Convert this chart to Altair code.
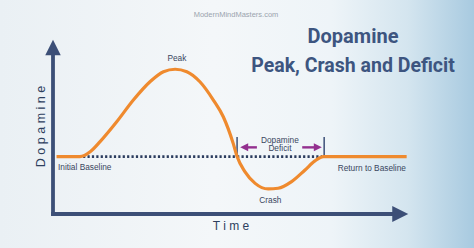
import altair as alt
import pandas as pd

# ---- data (time 0..100, dopamine 0..100) ----
curve_t = [1.0, 7.6, 10.5, 13.3, 18.0, 22.7, 27.4, 31.2, 34.5, 37.8, 41.5, 45.3, 48.1,
           50.9, 52.0, 54.2, 57.1, 60.8, 63.6, 67.4, 71.2, 74.0, 76.4, 99.9]
curve_d = [33.0, 33.0, 35.8, 41.6, 53.0, 65.5, 76.0, 81.8, 83.2, 81.8, 76.0, 65.5, 55.9,
           40.6, 33.0, 24.3, 17.6, 14.4, 14.8, 18.6, 25.3, 30.5, 33.0, 33.0]

baseline_level = 33.0
dotted_start = 8.5
dotted_end = 76.0
deficit_start = 52.0
deficit_end = 76.6
deficit_top = 44.3

label_text = ["Peak", "Crash", "Initial Baseline", "Return to Baseline", "Dopamine", "Deficit"]
label_t = [35.0, 61.4, 1.4, 99.7, 64.1, 64.1]
label_d = [88.9, 7.5, 26.7, 26.0, 42.1, 37.2]
label_align = ["center", "center", "left", "right", "center", "center"]

arrow_from = [57.6, 70.4]
arrow_to = [54.0, 74.8]
arrow_level = 38.3

axis_y_top = 91.4
axis_x_end = 96.0
axis_y_head = [0.0, 95.7]
axis_x_head = [98.1, 0.0]

NAVY = "#3c4f77"
ORANGE = "#ef8a2e"
MAGENTA = "#93308f"
TEXT = "#3a4660"

xs = alt.Scale(domain=[0, 100], nice=False, zero=False)
ys = alt.Scale(domain=[0, 100], nice=False, zero=False)
X = lambda f: alt.X(f, type="quantitative", scale=xs, axis=None)
Y = lambda f: alt.Y(f, type="quantitative", scale=ys, axis=None)

one = pd.DataFrame({"k": [0]})

bg_grad = alt.LinearGradient(
    gradient="linear",
    stops=[
        alt.GradientStop(color="#eaf0f4", offset=0),
        alt.GradientStop(color="#f4f7f9", offset=0.45),
        alt.GradientStop(color="#eef4f8", offset=0.7),
        alt.GradientStop(color="#d4e5ef", offset=0.86),
        alt.GradientStop(color="#a8cae0", offset=1),
    ],
    x1=0, x2=1, y1=0, y2=0,
)
background = alt.Chart(one).mark_rect(color=bg_grad).encode(
    x=alt.value(-53), x2=alt.value(421), y=alt.value(-40), y2=alt.value(208)
)

yaxis_df = pd.DataFrame({"t": [0.0], "d0": [0.0], "d1": [axis_y_top]})
xaxis_df = pd.DataFrame({"t0": [0.0], "t1": [axis_x_end], "d": [0.0]})
yaxis = alt.Chart(yaxis_df).mark_rule(color=NAVY, strokeWidth=3.8, strokeCap="square").encode(
    x=X("t"), y=Y("d0"), y2="d1")
xaxis = alt.Chart(xaxis_df).mark_rule(color=NAVY, strokeWidth=3.8, strokeCap="square").encode(
    x=X("t0"), x2="t1", y=Y("d"))
yhead = alt.Chart(pd.DataFrame({"t": [axis_x_head[1]], "d": [axis_y_head[1]]})).mark_point(
    shape="M0,-1L-1,1L1,1Z", size=240, filled=True, opacity=1, color=NAVY
).encode(x=X("t"), y=Y("d"))
xhead = alt.Chart(pd.DataFrame({"t": [axis_x_head[0]], "d": [axis_y_head[0]]})).mark_point(
    shape="M1,0L-1,-1L-1,1Z", size=256, filled=True, opacity=1, color=NAVY
).encode(x=X("t"), y=Y("d"))

dotted = alt.Chart(pd.DataFrame({"t0": [dotted_start], "t1": [dotted_end], "d": [baseline_level]})).mark_rule(
    color="#2b3c5e", strokeWidth=2.6, strokeDash=[2.2, 2.2]
).encode(x=X("t0"), x2="t1", y=Y("d"))

ticks = alt.Chart(pd.DataFrame({"t": [deficit_start, deficit_end],
                                "d0": [baseline_level] * 2, "d1": [deficit_top] * 2})).mark_rule(
    color=NAVY, strokeWidth=1.5
).encode(x=X("t"), y=Y("d0"), y2="d1")

curve = alt.Chart(pd.DataFrame({"t": curve_t, "d": curve_d})).mark_line(
    color=ORANGE, strokeWidth=3.2, interpolate="monotone", strokeCap="butt"
).encode(x=X("t"), y=Y("d"))

arrow_lines = alt.Chart(pd.DataFrame({"a": arrow_from, "b": arrow_to, "d": [arrow_level] * 2})).mark_rule(
    color=MAGENTA, strokeWidth=2.4
).encode(x=X("a"), x2="b", y=Y("d"))
lhead = alt.Chart(pd.DataFrame({"t": [arrow_to[0]], "d": [arrow_level]})).mark_point(
    shape="M-1,0L1,-1L1,1Z", size=64, filled=True, opacity=1, color=MAGENTA
).encode(x=X("t"), y=Y("d"))
rhead = alt.Chart(pd.DataFrame({"t": [arrow_to[1]], "d": [arrow_level]})).mark_point(
    shape="M1,0L-1,-1L-1,1Z", size=64, filled=True, opacity=1, color=MAGENTA
).encode(x=X("t"), y=Y("d"))

lab_df = pd.DataFrame({"text": label_text, "t": label_t, "d": label_d, "align": label_align})
labels = []
for al in ["left", "center", "right"]:
    labels.append(
        alt.Chart(lab_df[lab_df["align"] == al]).mark_text(
            align=al, baseline="middle", font="Liberation Sans", fontSize=8.3, color=TEXT
        ).encode(x=X("t"), y=Y("d"), text="text:N")
    )

def txt(s, x, y, **kw):
    return alt.Chart(pd.DataFrame({"s": [s]})).mark_text(**kw).encode(
        x=alt.value(x), y=alt.value(y), text="s:N")

watermark = txt("ModernMindMasters.com", 183, -25, font="Liberation Sans", fontSize=7.5,
                color="#9ba4ae", align="center", baseline="middle")
title_font = "Roboto"
title1 = txt("Dopamine", 300, 2.5, font=title_font, fontSize=20, fontWeight="bold",
             color="#3d5580", align="center", baseline="alphabetic")
title2 = txt("Peak, Crash and Deficit", 300, 31.5, font=title_font, fontSize=19.5, fontWeight="bold",
             color="#3d5580", align="center", baseline="alphabetic")
xtitle = txt("T i m e", 178, 186, font="Liberation Sans", fontSize=12, color="#2e3f5e",
             align="center", baseline="middle")
ytitle = txt("D o p a m i n e", -12, 86.5, font="Liberation Sans", fontSize=12.5, color="#2e3f5e",
             align="center", baseline="middle", angle=270)

chart = alt.layer(
    background, dotted, ticks, curve, yaxis, xaxis, yhead, xhead,
    arrow_lines, lhead, rhead, *labels, watermark, title1, title2, xtitle, ytitle
).properties(
    width=354, height=174,
    padding={"left": 53, "top": 40, "right": 67, "bottom": 34},
    autosize=alt.AutoSizeParams(type="none"),
).configure_view(stroke=None, fill=None).configure(background="#eef2f5")

chart.save("out.html", embed_options={"renderer": "svg", "actions": False})
